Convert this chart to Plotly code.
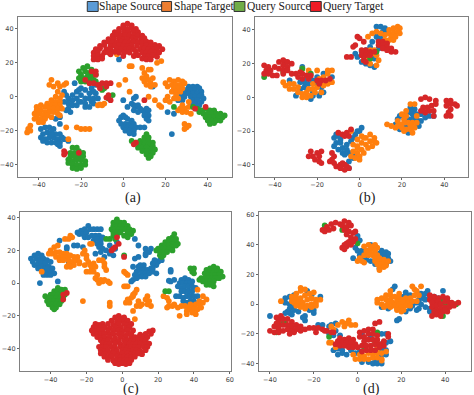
import plotly.graph_objects as go

SERIES_NAMES = ["Shape Source", "Shape Target", "Query Source", "Query Target"]
SERIES_COLORS = ["#1f77b4", "#ff7f0e", "#2ca02c", "#d62728"]
LEGEND_FILLS = ["#5b9bd5", "#ed7d31", "#70ad47", "#ee1c25"]
CAPTIONS = ["(a)", "(b)", "(c)", "(d)"]

A_BLUE = [(-28,3),(-27,1),(-26,-1),(-28,-3),(-26,-4),(-24,-2),(-24,1),(-22,3),(-22,-1),(-20,1),(-20,-3),(-18,-1),(-18,-4),(-16,-1),(-16,2),(-15,-3),(-14,-1),(-24,-5),(-26,-7),(-22,-5),(-27,-8),(-25,-9),(-21,-3),(-18,-6),(-16,-6),(-14,-4),(-13,2),(-15,5),(-20,5),(-23,8),(-21,4),(-18,4),(-13,7),(-12,-1),(-14,3),
(-39,-19),(-37,-18),(-35,-18),(-33,-19),(-38,-22),(-36,-21),(-34,-21),(-32,-22),(-30,-22),(-39,-24),(-37,-25),(-35,-24),(-33,-24),(-31,-25),(-29,-24),(-38,-26),(-36,-27),(-34,-27),(-32,-27),(-30,-27),(-28,-25),(-34,-22.5),(-31,-28),(-30,-12),(-32,-13),(-30,-16),(-30,-29),(-26,-26),
(-1,-12),(0,-11),(1,-12),(2,-13),(-2,-14),(-1,-16),(1,-16),(3,-16),(4,-14),(5,-16),(0,-18),(2,-18),(4,-18),(6,-18),(1,-20),(3,-20),(5,-20),(3,-21.5),(5,-22),(10,-18),(8,-18),
(5,-1),(6,0),(4,-4),(5,-5),(6,-6),(7,-5),(8,-7),(5,-8),(7,-9),(9,-8),(10,-9),(11,-7),(12,-8),(12,-11),(10,-11),(11,-13),(12,-14),(0,-2),(2,-6),
(31,6),(33,6),(35,6),(30,4),(32,4),(34,4),(36,5),(37,3),(29,2),(31,2),(33,2),(35,2),(37,1),(27,0),(29,0),(32,0),(34,0),(36,0),(38,-1),(26,-2),(28,-2),(33,-2),(35,-2),(37,-3),(34,-4),(36,-5),(32,-5),
(-2,22),(23,-22),(21,-9),(24,-10),(14,6)]
A_ORANGE = [(-31,3),(-29,1),(-32,0),(-30,-1),(-34,-2),(-32,-3),(-30,-3),(-36,-4),(-34,-5),(-32,-5),(-30,-5),(-39,-5),(-41,-6),(-37,-6),(-35,-7),(-33,-7),(-31,-7),(-29,-7),(-41,-8),(-39,-8),(-37,-9),(-35,-9),(-33,-9),(-31,-10),(-42,-10),(-40,-10),(-38,-11),(-36,-11),(-41,-12),(-39,-13),(-37,-13),(-34,-12),(-42,-13),(-40,-15),(-38,-15),(-30,-11),
(-34,10),(-35,7),(-33,6),(-30,6),(-28,7),(-27,8),(-31,8),(-44,-17),(-45,-19),(-45.5,-21),(-44,-20),(-22,-18),(-20,-19),(-18,-19),(-16,-19),(-27,-18),(-26,-25),(-12,-5),(-10,-5),(-11,-4.5),(-9,-4),
(3,18),(4,18),(9,17),(10,14),(11,12),(9,11),(10,9),(12,10),(13,8),(11,7),(13,6),(14,11),(15,7),(13,16),(12,16),(-2,7),(1,10),(3,3),(-3,25),(16,20),(18,21),
(20,8),(22,10),(24,9),(26,10),(28,9),(23,7),(25,7),(27,7),(29,8),(21,6),(24,5),(26,5),(28,5),(23,3),(25,3),(27,3),(25,1),(24,-1),(26,-1),(21,0),(20,-2),(22,-3),(18,-6),(17,-5),(15,-2),(28,-5),(29,-7),(31,-6),(27,-7),(28,-9),(30,-9),(32,-10),(31,-3),(26,-8),(29,-16),(30,-18),(31,-17),(29,-19),(12,0)]
A_GREEN = [(-21,15),(-19,17),(-17,18),(-15,16),(-20,13),(-18,15),(-16,14),(-21,11),(-19,11),(-17,12),(-15,12),(-13,13),(-20,9),(-18,9),(-16,10),(-14,10),(-13,9),(-11,7),(-10,4),(-9,5),(-5,1),(-7,-1),
(-24,-30),(-22,-30),(-25,-33),(-23,-33),(-21,-32),(-19,-33),(-25,-35),(-23,-35),(-21,-35),(-19,-35),(-26,-37),(-24,-38),(-22,-37),(-20,-37),(-18,-38),(-26,-39),(-24,-40),(-22,-40),(-20,-40),(-18,-40),(-24,-42),(-22,-42.5),(-20,-42),
(11,-22),(10,-24),(12,-24),(8,-26),(10,-26),(12,-26),(14,-27),(6,-27),(4,-26),(8,-28),(10,-28),(12,-28),(14,-29),(7,-30),(9,-30),(11,-30),(13,-31),(15,-31),(9,-32),(11,-32),(13,-33),(14,-33),(11,-34),(13,-35),(12,-36),
(33,-6),(35,-7),(37,-8),(39,-7),(41,-8),(43,-8),(36,-9),(38,-10),(40,-10),(42,-10),(44,-10),(46,-10),(48,-11),(39,-12),(41,-12),(43,-12),(45,-12),(47,-12),(40,-14),(42,-14),(44,-14),(46,-14),(41,-16),(43,-15.5),(24,-6),(45,-11)]
A_RED = [(0,42),(2,43),(4,42),(-2,40),(0,40.5),(2,40),(4,40.5),(6,40),(-4,38),(-2,38.5),(0.5,38),(2.5,38),(5,38.5),(7,38),(-5,36),(-3,36.5),(-1,36),(1,36.5),(3,36),(5,36.5),(7,36),(9,36),(-7,34),(-4.5,34),(-2,34.5),(0,34),(2,34),(4.5,34.5),(6,34),(8.5,34),(10,34.5),
(-9,32),(-7,32.5),(-5,32),(-3,32),(-1,32.5),(1,32),(3,32),(5,32.5),(7,32),(9,32),(11,32.5),(13,32),(-11,30),(-9,30.5),(-6,30),(-4,30),(-2,30.5),(0,30),(2,30),(4,30.5),(6.5,30),(9,30),(11,30.5),(13,30),(15,30.5),(17,30),
(-13,28),(-11,28.5),(-8,28),(-6,28),(-3,28.5),(-1,28),(1,28),(3,28.5),(5,28),(8,28),(10,28.5),(12,28),(14,28),(16,28.5),(18.5,28),(-14,26),(-12,26.5),(-9,26),(-7,26),(-4,26.5),(-2,26),(0.5,26),(3,26),(6,26.5),(9,26),(11,26),(13,26.5),(15,26),(17,26),
(-14,24),(-12,24.5),(-10,24),(-6,25),(0,24),(5,24),(7,24.5),(10,24),(12,24),(14,24.5),(16,23.5),(-14,22),(-12,22),(-10,22.5),(9,22.5),(11,22),(13,22),
(-15,15),(-13,15),(-18,10),(-16,8),(-14,8),(-12,7),(-10,8),(-8,8),(-6,8),(-11,5),(-8,6),(-8,-0.5),(-7,1),(-6,-2),(6,-27),(5,-28),(10,-2),(-28,-32),(-27.5,-33),(-28,-34),(-21,-33),(34,-7),(39,-6),(-13,13)]

B_BLUE = [(8,42),(10,42),(12,41),(13,39),(11,39),(8,36),(6,33),(9,34),(10,36),(5,30),(3,28),(-2,26),(-1,24),(1,27),(1,21),(3,20),(5,19),(7,18),(3,23),(7,23),(9,29),(12,32),
(-33,10),(-27,18),(-24,13),(-28,9),(-26,9),(-24,8),(-26,6),(-28,5),(-25,11),(-22,10),(-20,12),(-17,14),(-13,12),(-14,9),(-20,8),(-18,6),(-22,3),(-19,1),(-18,3),(-17,3),(-35,21),(-30,1),(-22,1),(-23,-1),
(-12,-24),(-11,-22),(-10,-23),(-9,-25),(-11,-27),(-9,-27),(-12,-29),(-10,-31),(-8,-30),(-6,-28),(-8,-33),(-5,-33),(-7,-34),(-4,-26),(-3,-24),(-1,-20),(1,-18),(0,-20),(-2,-22),(-5,-38),(-5,-42),(-3,-36),(-6,-31),(-2,-34),
(24,-6),(26,-7),(23,-9),(25,-10),(27,-10),(29,-10),(21,-11),(19,-11),(23,-13),(25,-13),(18,-13),(17,-16),(27,-13),(29,-14),(28,-17),(33,-11),(35,-11),(31,-12),(22,-17),(19,-19),(23,-21),(24,-8)]
B_ORANGE = [(4,36),(6,38),(8,39),(10,38),(12,37),(14,40),(16,41),(18,42),(19,41),(14,38),(16,38),(18,39),(15,36),(17,36),(19,38),(12,34),(14,34),(16,34),(11,32),(6,26),(4,24),(8,25),(9,22),(8,19),(5,20),(3,26),(7,28),(5,28),(2,22),
(-36,9),(-35,7),(-33,8),(-31,8),(-33,5),(-31,5),(-29,6),(-29,3),(-27,2),(-25,3),(-27,0),(-25,0),(-23,1),(-24,5),(-22,5),(-22,8),(-20,6),(-18,3),(-17,7),(-15,8),(-13,9),(-17,12),(-15,14),(-13,16),(-15,16),(-20,16),(-24,16),(-27,17),(-21,3),(-19,11),
(-4,-20),(-3,-28),(-1,-30),(1,-27),(3,-24),(5,-22),(7,-24),(8,-27),(-3,-32),(-1,-33),(1,-31),(3,-28),(5,-26),(7,-26),(-4,-35),(-2,-36),(0,-35),(2,-33),(0,-37),(-1,-29),(2,-24),(4,-30),(-1,-25),(1,-23),(6,-29),
(24,-4),(26,-4),(22,-8),(20,-10),(22,-11),(18,-14),(21,-13),(23,-15),(25,-15),(27,-15),(21,-15),(19,-16),(15,-17),(13,-16),(17,-18),(20,-18),(22,-19),(24,-19),(26,-18),(24,-17),(21,-20),(25,-21),(18,-17),(27,-11)]
B_GREEN = [(5,23),(8,27),(-45,12),(-23,14),(-27,17),(-36,15)]
B_RED = [(-1,36),(0,35),(-3,30),(-2,31),(2,33),(2,27),(3,28),(5,27),(7,27),(1,25),(3,25),(5,25),(1,28),(-6,24),(-4,24),(9,33),(11,33),(13,32),(9,31),(11,31),(13,30),(15,29),(11,29),(13,28),(15,27),(17,27),(2,22),(3,21),
(-45,19),(-43,18),(-44,16),(-42,16),(-45,14),(-43,14),(-41,13),(-39,13),(-40,18),(-38,21),(-36,22),(-34,21),(-36,19),(-38,17),(-36,16),(-34,18),(-32,20),(-36,14),(-34,16),(-30,14),(-28,15),(-32,14),(-29,12),(-27,14),(-25,13),(-23,13),(-27,11),(-24,11),(-20,10),(-18,10),(-16,10),(-14,11),(-19,8),
(-23,-32),(-22,-35),(-24,-35),(-20,-33),(-18,-32),(-19,-35),(-21,-37),(-19,-38),(-18,-39),(-13,-33),(-12,-35),(-13,-37),(-14,-38),(-12,-39),(-11,-41),(-9,-40),(-8,-39),(-7,-40),(-6,-41),(-5,-42),(-9,-42),(-7,-43),(-10,-21),(-8,-22),(-7,-23),(-5,-23),(-6,-21),(-4,-19),
(29,-1),(31,0),(33,-1),(36,-2),(36,-4),(34,-5),(32,-6),(30,-6),(29,-8),(33,-8),(35,-8),(31,-9),(35,-11),(41,-2),(43,-2),(45,-4),(46,-5),(43,-4),(41,-5),(43,-7),(42,-9),(41,-11),(43,-11)]

C_BLUE = [(-51,15),(-49,17),(-47,18),(-45,17),(-50,13),(-48,15),(-46,15),(-44,15),(-42,14),(-40,13),(-49,11),(-47,12),(-45,12),(-43,12),(-47,9),(-45,10),(-43,9),(-41,10),(-39,9),(-44,7),(-42,7),(-40,7),(-38,6),(-44,5),(-42,5),(-40,5),(-46,0),(-36,1),(-42,9),
(-25,31),(-23,32),(-21,33),(-19,35),(-24,30),(-22,30),(-20,31),(-18,33),(-16,33),(-14,33),(-12,33),(-21,28),(-19,28),(-17,29),(-15,29),(-13,29),(-11,28),(-16,26),(-14,27),(-12,26),(-12,24),(-14,24),
(-35,26),(-31,22),(-31,21),(-27,23),(-25,23),(-30,13),(-22,22),(-13,22),(-11,21),(-9,20),(-7,18),(-12,19),(-5,17),(-7,23),(-3,25),(-15,18),(-10,16),(-4,21),(7,27),(9,23),(9,16),(7,15),(13,21),(13,17),(15,19),(16,21),(13,18),
(6,10),(8,7),(9,10),(10,8),(12,9),(14,8),(16,9),(12,11),(10,11),(11,6),(13,6),(15,6),(17,7),(19,6),(7,5),(9,4),(11,4),(13,4),(6,2),(8,3),(5,1),(19,11),(17,12),(20,13),(21,14),(18,14),(22,14),(17,9),(27,8),(27,7),
(27,1),(26,1.5),(29,2),(33,2),(35,3),(37,2),(39,1),(32,0),(34,0),(36,0),(38,0),(31,-2),(33,-3),(35,-2),(37,-2),(39,-2),(41,-3),(33,-5),(35,-5),(37,-5),(39,-5),(30,-8),(32,-8),(34,-9),(36,-8),(38,-8),(40,-8),(34,-11),(36,-12),(38,-11),(40,-11),(42,-8)]
C_ORANGE = [(-40,20),(-38,22),(-36,23),(-41,18),(-39,18),(-37,19),(-35,19),(-33,18),(-31,18),(-37,16),(-35,16),(-33,16),(-31,16),(-29,17),(-27,16),(-25,16),(-35,14),(-33,14),(-30,14),(-28,13),(-26,14),(-24,13),(-30,11),(-27,11),(-24,12),(-29,10),(-31,10),
(-22,18),(-21,20),(-20,17),(-20,15),(-19,13),(-21,11),(-18,11),(-16,12),(-13,14),(-11,14),(-17,9),(-15,10),(-20,7),(-18,7),(-16,7),(-9,8),(-10,10),(-10,12),(-28,28),(-30,27),(-32,27),(-29,29),(-18,24),(-17,24),
(-14,5),(-15,3),(-14,2),(-12,2),(-10,2),(-13,0),(-11,1),(-8,1),(-7,0),(1,7),(2,6),(3,5),(1,-2),(2,-2),(3,-2),(-22,-11),(-7,-12),(-7,-14),
(8,-4),(7,-6),(6,-8),(5,-9),(3,-10),(2,-12),(4,-12),(6,-7),(3,-11),(14,-8),(13,-10),(15,-11),(9,-11),(11,-13),(8,-14),(14,-13),(16,-14),(10,-14),(6,-17),(7,-22),
(23,-8),(25,-9),(26,-11),(26,-14),(25,-15),(28,-14),(29,-13),(33,-14),(31,-15),(35,-14),(37,-15),(39,-14),(41,-13),(43,-13),(36,-17),(38,-16),(40,-16),(42,-16),(44,-15),(43,-11),(45,-8),(47,-10),(42,-4),(41,-19),(32,-20),(36,-19),(39,-18),(38,-13),(45,-12),(-45,7)]
C_GREEN = [(-3,39),(-5,37),(-3,37),(-1,37),(1,37),(-5,35),(-3,35),(-1,35),(1,35),(3,35),(-6,33),(-4,33),(-2,33),(0,33),(2,33),(4,33),(6,32),(-5,31),(-3,31),(-1,31),(3,31),(5,30),(-5,29),(-3,29),(1,29),(3,28),(-4,27),(-7,27),(-9,27),
(29,30),(28,28),(30,27),(26,27),(28,26),(30,25),(24,25),(26,25),(28,24),(31,24),(22,23),(24,23),(26,23),(28,22),(30,23),(20,21),(22,21),(24,21),(26,21),(28,20),(19,20),(21,19),(23,19),(25,19),(21,17),(23,17),(22,16),
(49,9),(51,10),(53,9),(47,8),(49,7),(51,7),(53,7),(55,7),(46,6),(48,5),(50,5),(52,5),(54,5),(56,4),(44,3),(46,3),(48,3),(50,3),(52,3),(54,3),(43,2),(45,1),(47,1),(49,1),(51,1),(47,-1),(49,-1),(51,-2),(38,9),(40,9),(39,7),(40,6),
(-36,-3),(-34,-4),(-32,-4),(-38,-5),(-36,-5),(-34,-6),(-40,-7),(-38,-7),(-36,-7),(-34,-8),(-32,-7),(-43,-8),(-41,-9),(-39,-9),(-37,-9),(-35,-10),(-33,-9),(-42,-11),(-40,-11),(-38,-11),(-36,-11),(-34,-11),(-41,-13),(-39,-13),(-37,-13),(-35,-13),(-39,-15),(-37,-15),(-38,-16),(1,17),(26,-5),(24,-5)]
C_RED = [(-2,-20),(-4,-21),(-1,-21.5),(1,-21),(-6,-23),(-3,-23.5),(-1,-23),(1,-23.5),(3,-23),(-15,-25),(-13,-25.5),(-11,-25),(-8,-25),(-5,-25.5),(-2,-25),(1,-25),(3,-25.5),(5,-25),(-16,-27),(-14,-27.5),(-12,-27),(-10,-27),(-7,-27.5),(-4,-27),(-1,-27),(2,-27.5),(4,-27),
(-17,-29),(-15,-29.5),(-13,-29),(-11,-29),(-8,-29.5),(-5,-29),(-2,-29),(0,-29.5),(3,-29),(6,-29),(15,-29.5),(17,-29),(-16,-31),(-14,-31.5),(-12,-31),(-10,-31),(-7,-31.5),(-5,-31),(-2,-31),(0,-31.5),(3,-31),(5,-31),(10,-31.5),(13,-31),(16,-31),
(-14,-33),(-12,-33.5),(-10,-33),(-7,-33),(-4,-33.5),(-1,-33),(2,-33),(5,-33.5),(7,-33),(9,-33),(12,-33.5),(14,-33),(-12,-35),(-10,-35.5),(-8,-35),(-5,-35),(-2,-35.5),(1,-35),(3,-35),(5,-35.5),(7,-35),(9,-35),(11,-35.5),(13,-35),
(-11,-37),(-9,-37.5),(-7,-37),(-4,-37),(-1,-37.5),(2,-37),(4,-37),(6,-37.5),(8,-37),(10,-37),(13,-37.5),(15,-37),(-13,-39),(-11,-39.5),(-9,-39),(-6,-39),(-4,-39.5),(-1,-39),(1,-39),(3,-39.5),(5,-39),(7,-39),(9,-39.5),(12,-39),(14,-39),
(-12,-41),(-10,-41.5),(-8,-41),(-5,-41),(-3,-41.5),(0,-41),(2,-41),(4,-41.5),(6,-41),(8,-41),(10,-41.5),(13,-41),(-12,-43),(-10,-43.5),(-7,-43),(-5,-43),(-2,-43.5),(0,-43),(3,-43),(5,-43.5),(7,-43),(9,-43),(11,-43.5),
(-10,-45),(-8,-45.5),(-6,-45),(-3,-45),(-1,-45.5),(1,-45),(3,-45),(5,-45.5),(7,-45),(-8,-47),(-5,-47.5),(-3,-47),(-1,-47),(1,-47.5),(3,-47),(5,-47),(-4,-49),(-2,-49.5),(0,-49),(2,-49.5),(4,-49),
(-3,28),(-4,22),(-5,21),(-6,20),(-2,24),(1,16),(-31,-6),(-33,-7),(-33,-10)]

D_BLUE = [(0,46),(1,43),(-1,38),(0,36),(2,36),(-2,31),(1,33),(3,33),(3,29),(5,36),(11,36),(13,35),(14,34),(10,34),(12,33),(14,31),(15,29),(6,29),(8,27),(11,26),(4,30),(6,40),(3,31),(13,27),(10,24),
(-33,4),(-31,5),(-29,6),(-23,9),(-21,6),(-33,1),(-31,0),(-29,-2),(-31,-3),(-29,-4),(-31,-6),(-32,-5),(-30,-7),(-24,-2),(-22,-4),(-20,-4),(-20,-6),(-24,-8),(-25,-9),(-24,-11),(-27,-5),(-17,5),(-33,-6),(-40,-8),(-18,-14),(-16,-14),(-13,-15),(-10,-18),
(-13,-20),(-12,-14),(-10,-13),(-11,-21),(-8,-21),(-9,-27),(-11,-31),(-9,-30),(-7,-33),(-7,-31),(-5,-34),(-9,-34),(-3,-31),(-1,-33),(1,-32),(2,-20),(6,-22),(11,-20),(13,-20),(11,-27),(13,-26),(15,-25),(13,-31),(11,-34),(5,-39),(2,-39),(7,-40),(9,-40),(11,-40),(8,-37),(10,-37),(13,-34),(11,-31),
(16,10),(17,12),(22,8),(24,6),(22,6),(20,5),(29,7),(31,7),(32,9),(30,4),(28,3),(31,3),(33,5),(35,5),(37,4),(39,9),(36,3),(27,1),(25,-1),(29,0),(31,-2),(33,-3),(28,-3),(27,-4),(24,-3),(22,-5),(19,-3),(14,-3),(11,-2),(18,-11),(19,-10),(33,-5)]
D_ORANGE = [(3,39),(5,40),(7,39),(9,38),(4,36),(6,37),(8,36),(3,33),(5,33),(7,33),(9,33),(1,31),(3,28),(0,29),(2,29),(8,31),(10,31),(12,30),(8,29),(10,29),(12,28),(14,29),(9,27),(11,27),(13,26),(10,25),(12,25),(10,23),(6,34),(8,40),
(-35,2),(-30,2),(-30,5),(-28,7),(-26,9),(-26,11),(-24,10),(-28,4),(-26,4),(-24,6),(-22,7),(-20,8),(-29,1),(-27,1),(-25,1),(-23,3),(-21,4),(-19,3),(-25,-1),(-23,-1),(-21,0),(-19,1),(-17,3),(-24,-3),(-21,-2),(-19,-1),(-26,-2),(-28,-1),
(-11,-17),(-12,-15),(-9,-14),(-7,-12),(-5,-13),(-4,-11),(-3,-14),(-1,-14),(-6,-15),(-12,-26),(-13,-26),(-10,-29),(-2,-34),(1,-34),(3,-35),(5,-33),(7,-34),(9,-33),(11,-33),(3,-37),(5,-37),(7,-36),(9,-36),(11,-38),(-1,-37),(9,-30),(11,-37),(1,-37),(13,-32),
(9,3),(9,1),(11,4),(13,6),(15,6),(15,9),(13,3),(15,3),(17,5),(19,4),(11,0),(14,1),(16,1),(18,2),(20,3),(22,4),(24,4),(13,-1),(15,-2),(17,-1),(19,0),(21,1),(23,1),(25,2),(27,2),(26,6),(26,10),(25,12),(29,12),(27,9),(18,-3),(20,-2),(22,-1),(24,-1),(18,-4),(20,-5),(21,-4),(12,-2),(28,6),(19,7)]
D_GREEN = [(-15,53),(-7,50),(0,41),(-36,-14),(-34,-13),(-33,-13),(-13,-22),(-31,-15),(-37,-19),(8,-20),(9,-19),(-8,-26),(-6,-27),(-4,-25),(3,-29),(8,-26),(38,3),(40,0),(35,-3),(38,-6),(39,-8),(45,0)]
D_RED = [(-16,50),(-14,52),(-12,54),(-10,55),(-8,54),(-15,49),(-13,50),(-11,51),(-6,56),(-4,55),(-7,53),(-5,52),(-3,53),(-6,50),(-4,49),(-2,48),(-1,49),(-5,47),(-3,45),(-1,44),(-6,40),(-5,39),(-7,38),(-6,37),(-5,41),(-3,40),(-4,42),(-2,42),
(-40,-18),(-38,-19),(-36,-17),(-38,-15),(-36,-14),(-37,-9),(-35,-8),(-36,-11),(-34,-10),(-32,-10),(-30,-12),(-34,-14),(-32,-14),(-30,-15),(-28,-14),(-36,-19),(-34,-18),(-32,-17),(-30,-18),(-28,-17),(-26,-15),(-24,-17),(-22,-16),(-20,-16),(-18,-16),(-16,-17),(-14,-18),(-26,-18),(-29,-19),(-37,-13),(-31,-20),(-15,-18),(-12,-19),(-11,-19),(-19,-19),
(-8,-23),(-6,-24),(-4,-23),(-2,-24),(-9,-25),(-7,-26),(-5,-26),(-3,-26),(-1,-27),(-10,-27),(-8,-28),(-6,-28),(-4,-29),(-2,-29),(0,-29),(2,-28),(4,-28),(6,-28),(8,-27),(10,-27),(12,-28),(1,-22),(3,-22),(1,-19),(3,-18),(5,-17),(7,-17),(5,-20),(7,-20),(9,-21),(3,-25),(5,-24),(7,-24),(9,-24),(2,-32),(4,-31),(6,-31),(8,-31),(10,-29),(12,-25),(14,-20),(14,-22),(8,-13),(10,-12),
(33,6),(35,5),(37,4),(39,5),(33,3),(35,2),(37,2),(34,1),(36,-1),(38,0),(40,2),(42,1),(44,0),(46,1),(34,-2),(36,-4),(38,-3),(40,-2),(42,-2),(44,-1),(35,-5),(37,-6),(39,-5),(41,-5),(36,-7),(34,-8),(38,-8),(40,-4),(41,4),(43,1)]

PANEL_DATA = [
    [A_BLUE, A_ORANGE, A_GREEN, A_RED],
    [B_BLUE, B_ORANGE, B_GREEN, B_RED],
    [C_BLUE, C_ORANGE, C_GREEN, C_RED],
    [D_BLUE, D_ORANGE, D_GREEN, D_RED],
]
W, H = 474, 395
# pixel box of each panel: left, right, top, bottom
BOXES = [(17, 233, 16, 176), (256, 471, 16, 176), (19, 232, 212, 371), (260, 474, 212, 371)]
X_RANGES = [(-49.9, 51.5), (-49.4, 51.2), (-57.2, 60.7), (-45.1, 51.8)]
Y_RANGES = [(-47, 47), (-47, 47.7), (-53.8, 43.2), (-45.1, 61.8)]
X_TICKS = [[-40, -20, 0, 20, 40], [-40, -20, 0, 20, 40], [-40, -20, 0, 20, 40, 60], [-40, -20, 0, 20, 40]]
Y_TICKS = [[-40, -20, 0, 20, 40], [-40, -20, 0, 20, 40], [-40, -20, 0, 20, 40], [-40, -20, 0, 20, 40, 60]]
CAPTION_POS = [(133, 198), (370, 198), (131, 389), (374, 389)]

fig = go.Figure()
layout = dict(width=W, height=H, margin=dict(l=0, r=0, t=0, b=0), paper_bgcolor="white",
              plot_bgcolor="white", showlegend=False)
for p, series in enumerate(PANEL_DATA):
    suf = "" if p == 0 else str(p + 1)
    for pts, name, color in zip(series, SERIES_NAMES, SERIES_COLORS):
        fig.add_trace(go.Scatter(x=[q[0] for q in pts], y=[q[1] for q in pts], mode="markers", name=name,
                                 xaxis="x" + suf, yaxis="y" + suf,
                                 marker=dict(size=5.8, color=color, line=dict(width=0))))
    l, r, t, b = BOXES[p]
    common = dict(showgrid=False, zeroline=False, showline=True, mirror=True, linecolor="#808080", linewidth=1,
                  ticks="outside", ticklen=2, tickwidth=1, tickcolor="#666",
                  tickfont=dict(family="DejaVu Sans", size=6.5, color="#444"))
    layout["xaxis" + suf] = dict(common, domain=[l / W, r / W], range=list(X_RANGES[p]), tickvals=X_TICKS[p],
                                 anchor="y" + suf)
    layout["yaxis" + suf] = dict(common, domain=[1 - b / H, 1 - t / H], range=list(Y_RANGES[p]), tickvals=Y_TICKS[p],
                                 anchor="x" + suf)
fig.update_layout(**layout)

SERIF = "Liberation Serif"
# legend
SWATCH_X = [(87, 98), (162, 172), (235, 246), (312, 323)]
LABEL_X = [99, 174, 248, 325]
for (x0, x1), lx, fill, name in zip(SWATCH_X, LABEL_X, LEGEND_FILLS, SERIES_NAMES):
    fig.add_shape(type="rect", xref="paper", yref="paper", x0=x0 / W, x1=x1 / W, y0=1 - 10.5 / H, y1=1 - 0.5 / H,
                  fillcolor=fill, line=dict(color="#333", width=1))
    fig.add_annotation(xref="paper", yref="paper", x=lx / W, y=1 - 6 / H, text=name, showarrow=False,
                       xanchor="left", yanchor="middle", xshift=-2, font=dict(family=SERIF, size=11.5, color="#222"))
for cap, (cx, cy) in zip(CAPTIONS, CAPTION_POS):
    fig.add_annotation(xref="paper", yref="paper", x=cx / W, y=1 - cy / H, text=cap, showarrow=False,
                       xanchor="center", yanchor="middle", font=dict(family=SERIF, size=14, color="#222"))

fig.write_html("out.html", config={"displayModeBar": False},
               post_script="document.body.style.margin='0';")
